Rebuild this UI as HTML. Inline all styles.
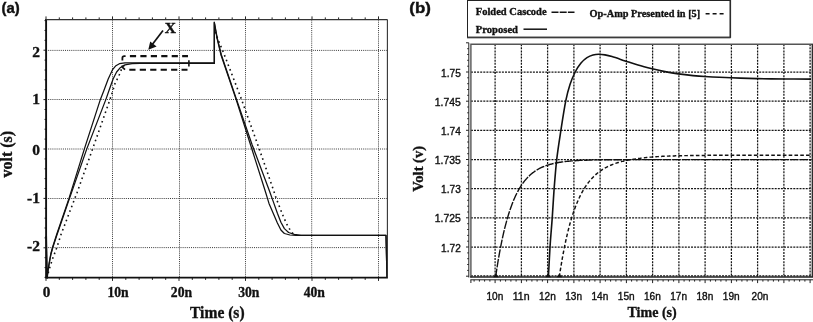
<!DOCTYPE html><html><head><meta charset="utf-8"><title>Figure</title>
<style>html,body{margin:0;padding:0;background:#fff}svg{display:block}.s{font-family:"Liberation Serif",serif;font-weight:bold;fill:#111;stroke:#111;stroke-width:0.35px}.h{font-family:"Liberation Sans",sans-serif;fill:#111;stroke:#111;stroke-width:0.4px}</style></head><body>
<svg width="813" height="322" viewBox="0 0 813 322">
<rect width="813" height="322" fill="#fff"/>
<path d="M112.5 19.6V277.7M179.5 19.6V277.7M245.5 19.6V277.7M311.7 19.6V277.7M378.5 19.6V277.7M46.1 50.4H387.4M46.1 99.5H387.4M46.1 149.0H387.4M46.1 198.5H387.4M46.1 247.6H387.4" stroke="#3a3a3a" stroke-width="1" stroke-dasharray="1 1.1" fill="none"/>
<path d="M47.0 278.0 L49.0 270.0 L52.5 259.0 L57.0 247.0 L61.0 234.5 L77.1 192.5 L93.6 146.1 L108.6 103.5 L111.7 94.4 L114.9 83.9 L117.3 79.0 L119.4 74.5 L121.5 69.2 L124.0 65.5 L127.0 63.8" stroke="#111" stroke-width="1.6" stroke-dasharray="1.6 3.4" fill="none"/>
<path d="M215.0 32.0 L216.6 36.0 L224.4 55.0 L240.5 96.7 L257.3 143.4 L273.3 189.5 L276.0 197.8 L279.8 207.6 L283.7 217.4 L287.9 226.5 L290.7 230.7 L293.5 234.2 L297.0 235.3" stroke="#111" stroke-width="1.6" stroke-dasharray="1.6 3.4" fill="none"/>
<path d="M46.2 236.0 L47.0 278.0 L48.0 270.0 L49.3 262.0 L50.8 254.0 L52.5 247.5 L56.5 235.0 L69.0 198.4 L84.4 148.9 L100.4 99.4 L104.0 90.2 L108.2 79.0 L112.4 69.9 L115.9 65.7 L119.4 63.7 L125.0 62.8 L214.2 62.8 L214.2 22.2 L215.2 28.0 L217.0 38.0 L219.5 48.5 L221.0 55.0 L236.1 99.4 L250.6 145.0 L264.9 190.0 L269.0 203.4 L273.2 213.2 L277.4 223.0 L280.9 230.0 L284.4 233.5 L290.0 235.0 L296.0 235.3 L386.0 235.3 L387.0 277.6" stroke="#111" stroke-width="1.25" fill="none" stroke-linejoin="round"/>
<path d="M46.4 236.0 L47.2 278.0 L48.2 270.0 L49.5 262.0 L51.0 254.0 L52.8 247.5 L56.9 235.0 L69.5 198.4 L86.8 148.9 L105.9 99.4 L109.6 88.8 L113.1 79.0 L116.6 72.0 L120.1 67.8 L125.0 64.9 L132.0 63.6 L140.0 63.4 L214.4 63.4 L214.4 22.6 L215.5 28.5 L217.3 38.3 L219.8 48.7 L221.4 55.0 L236.5 99.4 L252.2 145.0 L269.1 190.0 L273.9 203.4 L277.4 213.2 L280.9 222.3 L284.4 228.6 L288.6 232.5 L294.2 234.4 L301.0 235.3 L386.0 235.3 L387.0 277.6" stroke="#111" stroke-width="1.25" fill="none" stroke-linejoin="round"/>
<path d="M129.9 56.1H188M129.3 69.7H187.5" stroke="#111" stroke-width="2.05" stroke-dasharray="6.2 4.25" fill="none"/>
<path d="M125.6 56.1H124.2Q122.4 56.1 122.4 58V60.6M122.3 65.6V67.2L125 69.6" stroke="#111" stroke-width="1.8" fill="none"/>
<path d="M188.9 60.3V66.4" stroke="#111" stroke-width="1.6"/>
<path d="M163 30.5L151.5 45.5" stroke="#111" stroke-width="1.7"/>
<path d="M148.3 49.8L150.2 41.5L156.6 46.4Z" fill="#111"/>
<text class="s" x="164.8" y="33.2" font-size="15" textLength="11.2" lengthAdjust="spacingAndGlyphs">X</text>
<path d="M46.0 277.7v3.2M46.0 19.6v-3.2M59.3 277.7v2.2M59.3 19.6v-2.2M72.6 277.7v2.2M72.6 19.6v-2.2M85.9 277.7v2.2M85.9 19.6v-2.2M99.2 277.7v2.2M99.2 19.6v-2.2M112.5 277.7v3.2M112.5 19.6v-3.2M125.8 277.7v2.2M125.8 19.6v-2.2M139.1 277.7v2.2M139.1 19.6v-2.2M152.4 277.7v2.2M152.4 19.6v-2.2M165.7 277.7v2.2M165.7 19.6v-2.2M179.0 277.7v3.2M179.0 19.6v-3.2M192.3 277.7v2.2M192.3 19.6v-2.2M205.6 277.7v2.2M205.6 19.6v-2.2M218.9 277.7v2.2M218.9 19.6v-2.2M232.2 277.7v2.2M232.2 19.6v-2.2M245.5 277.7v3.2M245.5 19.6v-3.2M258.8 277.7v2.2M258.8 19.6v-2.2M272.1 277.7v2.2M272.1 19.6v-2.2M285.4 277.7v2.2M285.4 19.6v-2.2M298.7 277.7v2.2M298.7 19.6v-2.2M312.0 277.7v3.2M312.0 19.6v-3.2M325.3 277.7v2.2M325.3 19.6v-2.2M338.6 277.7v2.2M338.6 19.6v-2.2M351.9 277.7v2.2M351.9 19.6v-2.2M365.2 277.7v2.2M365.2 19.6v-2.2M378.5 277.7v3.2M378.5 19.6v-3.2" stroke="#222" stroke-width="1" fill="none"/>
<path d="M46.1 277.4h-1.6M46.1 267.6h-1.6M46.1 257.7h-1.6M46.1 247.8h-2.6M46.1 237.9h-1.6M46.1 228.0h-1.6M46.1 218.2h-1.6M46.1 208.3h-1.6M46.1 198.4h-2.6M46.1 188.5h-1.6M46.1 178.6h-1.6M46.1 168.8h-1.6M46.1 158.9h-1.6M46.1 149.0h-2.6M46.1 139.1h-1.6M46.1 129.2h-1.6M46.1 119.4h-1.6M46.1 109.5h-1.6M46.1 99.6h-2.6M46.1 89.7h-1.6M46.1 79.8h-1.6M46.1 70.0h-1.6M46.1 60.1h-1.6M46.1 50.2h-2.6M46.1 40.3h-1.6M46.1 30.4h-1.6M46.1 20.6h-1.6" stroke="#222" stroke-width="1" fill="none"/>
<path d="M46.1 19.1V277.7" stroke="#111" stroke-width="1.9" fill="none"/>
<path d="M45.2 277.7H387.9" stroke="#111" stroke-width="1.7" fill="none"/>
<path d="M46.1 19.6H387.4" stroke="#333" stroke-width="1.3" fill="none"/>
<path d="M387.4 19.6V277.7" stroke="#333" stroke-width="1.1" fill="none"/>
<text class="h" x="1.5" y="12.6" font-size="14.5" textLength="18.2" lengthAdjust="spacingAndGlyphs" font-weight="bold">(a)</text>
<text class="s" x="39.9" y="56.9" font-size="15.5" text-anchor="end">2</text>
<text class="s" x="39.9" y="103.9" font-size="15.5" text-anchor="end">1</text>
<text class="s" x="39.9" y="154.6" font-size="15.5" text-anchor="end">0</text>
<text class="s" x="39.9" y="202.7" font-size="15.5" text-anchor="end">-1</text>
<text class="s" x="39.9" y="250.6" font-size="15.5" text-anchor="end">-2</text>
<text class="s" x="42.7" y="296.6" font-size="15.5" textLength="7.6" lengthAdjust="spacingAndGlyphs">0</text>
<text class="s" x="107.4" y="296.6" font-size="15.5" textLength="21.3" lengthAdjust="spacingAndGlyphs">10n</text>
<text class="s" x="170.8" y="296.6" font-size="15.5" textLength="21.3" lengthAdjust="spacingAndGlyphs">20n</text>
<text class="s" x="238.2" y="296.6" font-size="15.5" textLength="21.3" lengthAdjust="spacingAndGlyphs">30n</text>
<text class="s" x="303.7" y="296.6" font-size="15.5" textLength="21.3" lengthAdjust="spacingAndGlyphs">40n</text>
<text class="s" x="190" y="318.1" font-size="16.5" textLength="54.6" lengthAdjust="spacingAndGlyphs">Time (s)</text>
<text class="s" transform="translate(11.7 154.2) rotate(-90)" font-size="16" text-anchor="middle">volt (s)</text>
<path d="M495.1 44.2V277.0M521.4 44.2V277.0M547.6 44.2V277.0M573.9 44.2V277.0M600.1 44.2V277.0M626.4 44.2V277.0M652.6 44.2V277.0M678.9 44.2V277.0M705.1 44.2V277.0M731.4 44.2V277.0M757.6 44.2V277.0M783.9 44.2V277.0M810.1 44.2V277.0M470.9 72.0H812.3M470.9 101.2H812.3M470.9 130.3H812.3M470.9 159.5H812.3M470.9 188.7H812.3M470.9 217.8H812.3M470.9 247.0H812.3M470.9 275.8H812.3" stroke="#151515" stroke-width="1.25" stroke-dasharray="2 1.1" fill="none"/>
<path d="M470.9 277.5V44.2H813.3" fill="none" stroke="#555" stroke-width="1.4"/>
<path d="M812.3 44.2V277.0" fill="none" stroke="#222" stroke-width="1.3"/>
<path d="M470.2 277.0H813" fill="none" stroke="#222" stroke-width="1.4"/>
<path d="M470.4 279.8H813M470.9 279.8v3.2M474.1 279.8v1.8M479.4 279.8v1.8M484.6 279.8v1.8M489.9 279.8v1.8M495.1 279.8v3.3M500.4 279.8v1.8M505.6 279.8v1.8M510.9 279.8v1.8M516.1 279.8v1.8M521.4 279.8v3.3M526.6 279.8v1.8M531.9 279.8v1.8M537.1 279.8v1.8M542.4 279.8v1.8M547.6 279.8v3.3M552.9 279.8v1.8M558.1 279.8v1.8M563.4 279.8v1.8M568.6 279.8v1.8M573.9 279.8v3.3M579.1 279.8v1.8M584.4 279.8v1.8M589.6 279.8v1.8M594.9 279.8v1.8M600.1 279.8v3.3M605.4 279.8v1.8M610.6 279.8v1.8M615.9 279.8v1.8M621.1 279.8v1.8M626.4 279.8v3.3M631.6 279.8v1.8M636.9 279.8v1.8M642.1 279.8v1.8M647.4 279.8v1.8M652.6 279.8v3.3M657.9 279.8v1.8M663.1 279.8v1.8M668.4 279.8v1.8M673.6 279.8v1.8M678.9 279.8v3.3M684.1 279.8v1.8M689.4 279.8v1.8M694.6 279.8v1.8M699.9 279.8v1.8M705.1 279.8v3.3M710.4 279.8v1.8M715.6 279.8v1.8M720.9 279.8v1.8M726.1 279.8v1.8M731.4 279.8v3.3M736.6 279.8v1.8M741.9 279.8v1.8M747.1 279.8v1.8M752.4 279.8v1.8M757.6 279.8v3.3M762.9 279.8v1.8M768.1 279.8v1.8M773.4 279.8v1.8M778.6 279.8v1.8M783.9 279.8v3.3M789.1 279.8v1.8M794.3 279.8v1.8M799.6 279.8v1.8M804.9 279.8v1.8M810.1 279.8v3.3" stroke="#222" stroke-width="1" fill="none"/>
<path d="M468.8 42.8V277.5M468.8 276.2h-2.8M468.8 270.4h-1.6M468.8 264.5h-1.6M468.8 258.7h-1.6M468.8 252.9h-1.6M468.8 247.0h-2.8M468.8 241.2h-1.6M468.8 235.4h-1.6M468.8 229.5h-1.6M468.8 223.7h-1.6M468.8 217.8h-2.8M468.8 212.0h-1.6M468.8 206.2h-1.6M468.8 200.3h-1.6M468.8 194.5h-1.6M468.8 188.7h-2.8M468.8 182.8h-1.6M468.8 177.0h-1.6M468.8 171.2h-1.6M468.8 165.3h-1.6M468.8 159.5h-2.8M468.8 153.7h-1.6M468.8 147.8h-1.6M468.8 142.0h-1.6M468.8 136.2h-1.6M468.8 130.3h-2.8M468.8 124.5h-1.6M468.8 118.7h-1.6M468.8 112.8h-1.6M468.8 107.0h-1.6M468.8 101.2h-2.8M468.8 95.3h-1.6M468.8 89.5h-1.6M468.8 83.7h-1.6M468.8 77.8h-1.6M468.8 72.0h-2.8M468.8 66.2h-1.6M468.8 60.3h-1.6M468.8 54.5h-1.6M468.8 48.7h-1.6M468.8 42.8h-2.8" stroke="#222" stroke-width="1" fill="none"/>
<path d="M495.6 277.0 L496.6 270.3 L497.6 264.0 L498.6 258.0 L499.6 252.4 L500.6 247.1 L501.6 242.1 L502.6 237.4 L503.6 232.9 L504.6 228.7 L505.6 224.8 L506.6 221.1 L507.6 217.6 L508.6 214.2 L509.6 211.1 L510.6 208.2 L511.6 205.4 L512.6 202.8 L513.6 200.3 L514.6 198.0 L515.6 195.8 L516.6 193.7 L517.6 191.8 L518.6 189.9 L519.6 188.2 L520.6 186.6 L521.6 185.0 L522.6 183.6 L523.6 182.2 L524.6 180.9 L525.6 179.7 L526.6 178.6 L527.6 177.5 L528.6 176.5 L529.6 175.5 L530.6 174.6 L531.6 173.7 L532.6 172.9 L533.6 172.2 L534.6 171.4 L535.6 170.8 L536.6 170.1 L537.6 169.5 L538.6 169.0 L539.6 168.4 L540.6 167.9 L541.6 167.4 L542.6 167.0 L543.6 166.6 L544.6 166.2 L545.6 165.8 L546.6 165.4 L547.6 165.1 L548.6 164.8 L549.6 164.5 L550.6 164.2 L551.6 164.0 L552.6 163.7 L553.6 163.5 L554.6 163.3 L555.6 163.0 L556.6 162.8 L557.6 162.7 L558.6 162.5 L559.6 162.3 L560.6 162.2 L561.6 162.0 L562.6 161.9 L563.6 161.8 L564.6 161.6 L565.6 161.5 L566.6 161.4 L567.6 161.3 L568.6 161.2 L569.6 161.1 L570.6 161.0 L571.6 160.9 L572.6 160.9 L573.6 160.8 L574.6 160.7 L575.6 160.7 L576.6 160.6 L577.6 160.5 L578.6 160.5 L579.6 160.4 L580.6 160.4 L581.6 160.3 L582.6 160.3 L583.6 160.3 L584.6 160.2 L585.6 160.2 L586.6 160.2 L587.6 160.1 L588.6 160.1 L589.6 160.1 L590.6 160.0 L591.6 160.0 L592.6 160.0 L593.6 160.0 L594.6 159.9 L595.6 159.9 L596.6 159.9 L597.6 159.9 L598.6 159.9 L599.6 159.9 L600.6 159.8 L601.6 159.8 L602.6 159.8 L603.6 159.8 L604.6 159.8 L605.6 159.8 L606.6 159.8 L607.6 159.8 L608.6 159.8 L609.6 159.7 L610.6 159.7 L611.6 159.7 L612.6 159.7 L613.6 159.7 L614.6 159.7 L615.6 159.7 L616.6 159.7 L617.6 159.7 L618.6 159.7 L619.6 159.7 L620.6 159.7 L621.6 159.7 L622.6 159.7 L623.6 159.7 L624.6 159.7 L625.6 159.7 L626.6 159.7 L627.6 159.6 L628.6 159.6 L629.6 159.6 L630.6 159.6 L631.6 159.6 L632.6 159.6 L633.6 159.6 L634.6 159.6 L635.6 159.6 L636.6 159.6 L637.6 159.6 L638.6 159.6 L639.6 159.6 L640.6 159.6 L641.6 159.6 L642.6 159.6 L643.6 159.6 L644.6 159.6 L645.6 159.6 L646.6 159.6 L647.6 159.6 L648.6 159.6 L649.6 159.6 L650.6 159.6 L651.6 159.6 L652.6 159.6 L653.6 159.6 L654.6 159.6 L655.6 159.6 L656.6 159.6 L657.6 159.6 L658.6 159.6 L659.6 159.6 L660.6 159.6 L661.6 159.6 L662.6 159.6 L663.6 159.6 L664.6 159.6 L665.6 159.6 L666.6 159.6 L667.6 159.6 L668.6 159.6 L669.6 159.6 L670.6 159.6 L671.6 159.6 L672.6 159.6 L673.6 159.6 L674.6 159.6 L675.6 159.6 L676.6 159.6 L677.6 159.6 L678.6 159.6 L679.6 159.6 L680.6 159.6 L681.6 159.6 L682.6 159.6 L683.6 159.6 L684.6 159.6 L685.6 159.6 L686.6 159.6 L687.6 159.6 L688.6 159.6 L689.6 159.6 L690.6 159.6 L691.6 159.6 L692.6 159.6 L693.6 159.6 L694.6 159.6 L695.6 159.6 L696.6 159.6 L697.6 159.6 L698.6 159.6 L699.6 159.6 L700.6 159.6 L701.6 159.6 L702.6 159.6 L703.6 159.6 L704.6 159.6 L705.6 159.6 L706.6 159.6 L707.6 159.6 L708.6 159.6 L709.6 159.6 L710.6 159.6 L711.6 159.6 L712.6 159.6 L713.6 159.6 L714.6 159.6 L715.6 159.6 L716.6 159.6 L717.6 159.6 L718.6 159.6 L719.6 159.6 L720.6 159.6 L721.6 159.6 L722.6 159.6 L723.6 159.6 L724.6 159.6 L725.6 159.6 L726.6 159.6 L727.6 159.6 L728.6 159.6 L729.6 159.6 L730.6 159.6 L731.6 159.6 L732.6 159.6 L733.6 159.6 L734.6 159.6 L735.6 159.6 L736.6 159.6 L737.6 159.6 L738.6 159.6 L739.6 159.6 L740.6 159.6 L741.6 159.6 L742.6 159.6 L743.6 159.6 L744.6 159.6 L745.6 159.6 L746.6 159.6 L747.6 159.6 L748.6 159.6 L749.6 159.6 L750.6 159.6 L751.6 159.6 L752.6 159.6 L753.6 159.6 L754.6 159.6 L755.6 159.6 L756.6 159.6 L757.6 159.6 L758.6 159.6 L759.6 159.6 L760.6 159.6 L761.6 159.6 L762.6 159.6 L763.6 159.6 L764.6 159.6 L765.6 159.6 L766.6 159.6 L767.6 159.6 L768.6 159.6 L769.6 159.6 L770.6 159.6 L771.6 159.6 L772.6 159.6 L773.6 159.6 L774.6 159.6 L775.6 159.6 L776.6 159.6 L777.6 159.6 L778.6 159.6 L779.6 159.6 L780.6 159.6 L781.6 159.6 L782.6 159.6 L783.6 159.6 L784.6 159.6 L785.6 159.6 L786.6 159.6 L787.6 159.6 L788.6 159.6 L789.6 159.6 L790.6 159.6 L791.6 159.6 L792.6 159.6 L793.6 159.6 L794.6 159.6 L795.6 159.6 L796.6 159.6 L797.6 159.6 L798.6 159.6 L799.6 159.6 L800.6 159.6 L801.6 159.6 L802.6 159.6 L803.6 159.6 L804.6 159.6 L805.6 159.6 L806.6 159.6 L807.6 159.6 L808.6 159.6 L809.6 159.6 L810.6 159.6 L811.6 159.6" stroke="#111" stroke-width="1.4" stroke-dasharray="8.5 1.3" fill="none"/>
<path d="M559.3 277.0 L560.3 270.4 L561.3 264.3 L562.3 258.4 L563.3 253.0 L564.3 247.8 L565.3 243.0 L566.3 238.4 L567.3 234.1 L568.3 230.0 L569.3 226.1 L570.3 222.5 L571.3 219.1 L572.3 215.9 L573.3 212.8 L574.3 209.9 L575.3 207.2 L576.3 204.6 L577.3 202.2 L578.3 199.9 L579.3 197.7 L580.3 195.6 L581.3 193.7 L582.3 191.8 L583.3 190.1 L584.3 188.4 L585.3 186.9 L586.3 185.4 L587.3 184.0 L588.3 182.6 L589.3 181.4 L590.3 180.1 L591.3 179.0 L592.3 177.9 L593.3 176.9 L594.3 175.9 L595.3 175.0 L596.3 174.1 L597.3 173.2 L598.3 172.4 L599.3 171.7 L600.3 171.0 L601.3 170.3 L602.3 169.6 L603.3 169.0 L604.3 168.4 L605.3 167.8 L606.3 167.3 L607.3 166.8 L608.3 166.3 L609.3 165.8 L610.3 165.4 L611.3 165.0 L612.3 164.6 L613.3 164.2 L614.3 163.8 L615.3 163.4 L616.3 163.1 L617.3 162.8 L618.3 162.5 L619.3 162.2 L620.3 161.9 L621.3 161.6 L622.3 161.4 L623.3 161.2 L624.3 160.9 L625.3 160.7 L626.3 160.5 L627.3 160.3 L628.3 160.1 L629.3 159.9 L630.3 159.7 L631.3 159.5 L632.3 159.4 L633.3 159.2 L634.3 159.1 L635.3 158.9 L636.3 158.8 L637.3 158.7 L638.3 158.5 L639.3 158.4 L640.3 158.3 L641.3 158.1 L642.3 158.0 L643.3 157.9 L644.3 157.8 L645.3 157.6 L646.3 157.5 L647.3 157.4 L648.3 157.3 L649.3 157.2 L650.3 157.1 L651.3 157.1 L652.3 157.0 L653.3 156.9 L654.3 156.8 L655.3 156.8 L656.3 156.7 L657.3 156.6 L658.3 156.6 L659.3 156.5 L660.3 156.4 L661.3 156.4 L662.3 156.3 L663.3 156.3 L664.3 156.2 L665.3 156.2 L666.3 156.1 L667.3 156.1 L668.3 156.1 L669.3 156.0 L670.3 156.0 L671.3 155.9 L672.3 155.9 L673.3 155.9 L674.3 155.9 L675.3 155.8 L676.3 155.8 L677.3 155.8 L678.3 155.7 L679.3 155.7 L680.3 155.7 L681.3 155.7 L682.3 155.7 L683.3 155.6 L684.3 155.6 L685.3 155.6 L686.3 155.6 L687.3 155.6 L688.3 155.5 L689.3 155.5 L690.3 155.5 L691.3 155.5 L692.3 155.5 L693.3 155.5 L694.3 155.5 L695.3 155.5 L696.3 155.4 L697.3 155.4 L698.3 155.4 L699.3 155.4 L700.3 155.4 L701.3 155.4 L702.3 155.4 L703.3 155.4 L704.3 155.4 L705.3 155.4 L706.3 155.4 L707.3 155.3 L708.3 155.3 L709.3 155.3 L710.3 155.3 L711.3 155.3 L712.3 155.3 L713.3 155.3 L714.3 155.3 L715.3 155.3 L716.3 155.3 L717.3 155.3 L718.3 155.3 L719.3 155.3 L720.3 155.3 L721.3 155.3 L722.3 155.3 L723.3 155.3 L724.3 155.3 L725.3 155.3 L726.3 155.3 L727.3 155.3 L728.3 155.3 L729.3 155.3 L730.3 155.3 L731.3 155.2 L732.3 155.2 L733.3 155.2 L734.3 155.2 L735.3 155.2 L736.3 155.2 L737.3 155.2 L738.3 155.2 L739.3 155.2 L740.3 155.2 L741.3 155.2 L742.3 155.2 L743.3 155.2 L744.3 155.2 L745.3 155.2 L746.3 155.2 L747.3 155.2 L748.3 155.2 L749.3 155.2 L750.3 155.2 L751.3 155.2 L752.3 155.2 L753.3 155.2 L754.3 155.2 L755.3 155.2 L756.3 155.2 L757.3 155.2 L758.3 155.2 L759.3 155.2 L760.3 155.2 L761.3 155.2 L762.3 155.2 L763.3 155.2 L764.3 155.2 L765.3 155.2 L766.3 155.2 L767.3 155.2 L768.3 155.2 L769.3 155.2 L770.3 155.2 L771.3 155.2 L772.3 155.2 L773.3 155.2 L774.3 155.2 L775.3 155.2 L776.3 155.2 L777.3 155.2 L778.3 155.2 L779.3 155.2 L780.3 155.2 L781.3 155.2 L782.3 155.2 L783.3 155.2 L784.3 155.2 L785.3 155.2 L786.3 155.2 L787.3 155.2 L788.3 155.2 L789.3 155.2 L790.3 155.2 L791.3 155.2 L792.3 155.2 L793.3 155.2 L794.3 155.2 L795.3 155.2 L796.3 155.2 L797.3 155.2 L798.3 155.2 L799.3 155.2 L800.3 155.2 L801.3 155.2 L802.3 155.2 L803.3 155.2 L804.3 155.2 L805.3 155.2 L806.3 155.2 L807.3 155.2 L808.3 155.2 L809.3 155.2 L810.3 155.2 L811.3 155.2 L812.3 155.2" stroke="#111" stroke-width="1.45" stroke-dasharray="3.6 2.2" fill="none"/>
<path d="M548.4 277.0C548.7 272.1 549.4 257.1 550.0 247.3C550.6 237.5 551.5 228.1 552.2 218.4C552.9 208.7 553.4 198.8 554.1 189.0C554.9 179.2 555.6 169.4 556.7 159.6C557.8 149.8 559.4 140.0 560.9 130.3C562.4 120.6 564.2 108.8 565.7 101.2C567.2 93.6 568.4 89.4 570.0 84.5C571.6 79.6 573.4 75.6 575.2 72.0C577.0 68.4 579.0 65.4 581.0 63.0C583.0 60.6 585.0 58.9 587.0 57.6C589.0 56.3 591.1 55.5 593.0 55.0C594.9 54.5 596.5 54.3 598.5 54.3C600.5 54.3 602.8 54.5 605.0 54.9C607.2 55.3 608.6 55.6 612.0 56.6C615.4 57.6 620.9 59.5 625.2 60.9C629.5 62.3 633.5 63.7 638.0 65.0C642.5 66.3 647.7 67.6 652.2 68.7C656.7 69.8 660.6 70.7 665.0 71.6C669.4 72.5 674.0 73.3 678.3 73.9C682.6 74.5 686.6 75.0 691.0 75.4C695.4 75.8 698.2 76.1 704.9 76.5C711.6 76.9 722.3 77.5 731.0 77.8C739.7 78.1 748.0 78.4 757.0 78.6C766.0 78.8 776.0 78.9 785.0 79.0C794.0 79.1 806.7 79.1 811.0 79.1" stroke="#111" stroke-width="1.6" fill="none"/>
<path d="M493.2 277.2L496 273.4L498.8 277.2Z" fill="#111"/>
<path d="M545.4000000000001 277.2L548.2 273.4L551.0 277.2Z" fill="#111"/>
<path d="M556.5 277.2L559.3 273.4L562.0999999999999 277.2Z" fill="#111"/>
<rect x="467.5" y="0.5" width="262.5" height="36.6" fill="#fff" stroke="#222" stroke-width="1"/>
<path d="M730.6 0V37.8H467" stroke="#222" stroke-width="1" fill="none"/>
<text class="s" x="475.8" y="14.6" font-size="11" textLength="70.8" lengthAdjust="spacingAndGlyphs">Folded Cascode</text>
<path d="M551.5 12.2H574.5" stroke="#111" stroke-width="1.4" stroke-dasharray="7 1.2"/>
<text class="s" x="589.5" y="17" font-size="11" textLength="110.7" lengthAdjust="spacingAndGlyphs">Op-Amp Presented in [5]</text>
<path d="M705.6 13.8H724" stroke="#111" stroke-width="1.4" stroke-dasharray="4 3"/>
<text class="s" x="475.8" y="32.5" font-size="11" textLength="42.2" lengthAdjust="spacingAndGlyphs">Proposed</text>
<path d="M523.5 29.2H547" stroke="#111" stroke-width="1.5"/>
<text class="h" x="409.3" y="12.6" font-size="14.5" textLength="21.5" lengthAdjust="spacingAndGlyphs" font-weight="bold">(b)</text>
<text class="h" x="441.1" y="76.6" font-size="11.5" textLength="19.7" lengthAdjust="spacingAndGlyphs">1.75</text>
<text class="h" x="434.8" y="105.8" font-size="11.5" textLength="26" lengthAdjust="spacingAndGlyphs">1.745</text>
<text class="h" x="441.1" y="134.9" font-size="11.5" textLength="19.7" lengthAdjust="spacingAndGlyphs">1.74</text>
<text class="h" x="434.8" y="164.1" font-size="11.5" textLength="26" lengthAdjust="spacingAndGlyphs">1.735</text>
<text class="h" x="441.1" y="193.3" font-size="11.5" textLength="19.7" lengthAdjust="spacingAndGlyphs">1.73</text>
<text class="h" x="434.8" y="222.4" font-size="11.5" textLength="26" lengthAdjust="spacingAndGlyphs">1.725</text>
<text class="h" x="441.1" y="251.6" font-size="11.5" textLength="19.7" lengthAdjust="spacingAndGlyphs">1.72</text>
<text class="h" x="486.5" y="299.8" font-size="11.5" textLength="16.8" lengthAdjust="spacingAndGlyphs">10n</text>
<text class="h" x="512.8" y="299.8" font-size="11.5" textLength="16.8" lengthAdjust="spacingAndGlyphs">11n</text>
<text class="h" x="539.0" y="299.8" font-size="11.5" textLength="16.8" lengthAdjust="spacingAndGlyphs">12n</text>
<text class="h" x="565.2" y="299.8" font-size="11.5" textLength="16.8" lengthAdjust="spacingAndGlyphs">13n</text>
<text class="h" x="591.5" y="299.8" font-size="11.5" textLength="16.8" lengthAdjust="spacingAndGlyphs">14n</text>
<text class="h" x="617.8" y="299.8" font-size="11.5" textLength="16.8" lengthAdjust="spacingAndGlyphs">15n</text>
<text class="h" x="644.0" y="299.8" font-size="11.5" textLength="16.8" lengthAdjust="spacingAndGlyphs">16n</text>
<text class="h" x="670.2" y="299.8" font-size="11.5" textLength="16.8" lengthAdjust="spacingAndGlyphs">17n</text>
<text class="h" x="696.5" y="299.8" font-size="11.5" textLength="16.8" lengthAdjust="spacingAndGlyphs">18n</text>
<text class="h" x="722.8" y="299.8" font-size="11.5" textLength="16.8" lengthAdjust="spacingAndGlyphs">19n</text>
<text class="h" x="751.6" y="299.8" font-size="11.5" textLength="16.8" lengthAdjust="spacingAndGlyphs">20n</text>
<text class="s" x="627.5" y="317.2" font-size="14.5" textLength="49.2" lengthAdjust="spacingAndGlyphs">Time (s)</text>
<text class="s" transform="translate(422.8 168.9) rotate(-90)" font-size="14.5" text-anchor="middle">Volt (v)</text>
</svg></body></html>
